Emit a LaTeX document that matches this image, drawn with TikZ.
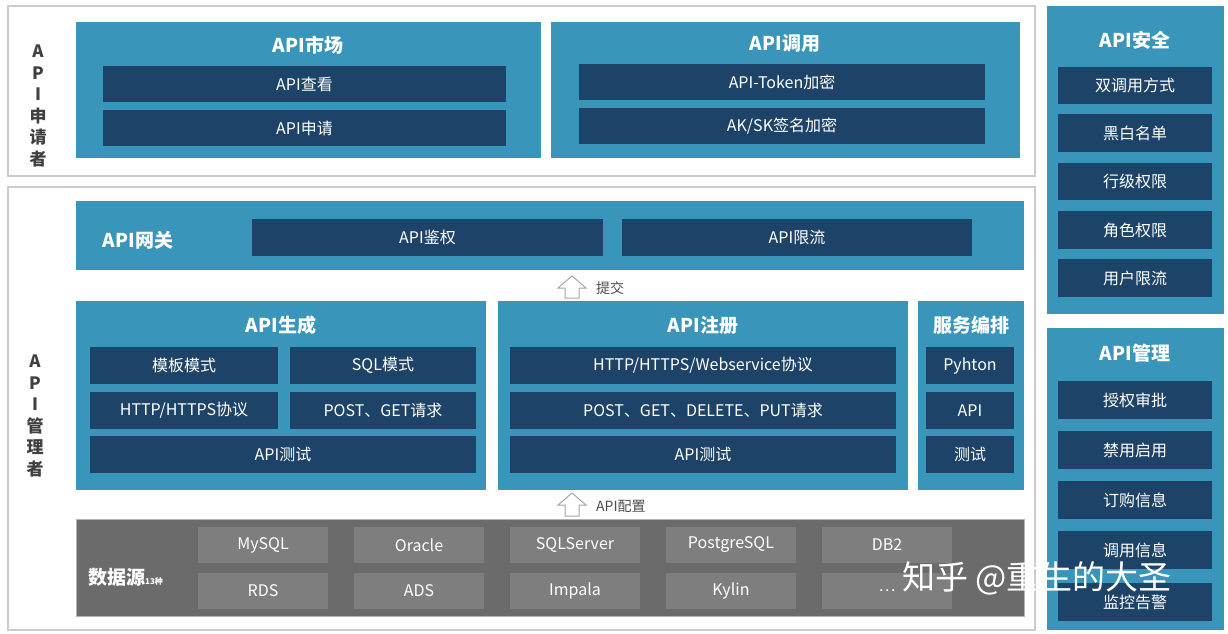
\documentclass[tikz,border=0pt]{standalone}
\usepackage{fontspec}
\setmainfont{Noto Sans CJK SC}
\definecolor{lb}{HTML}{3A95BB}
\definecolor{db}{HTML}{1D4468}
\definecolor{gr}{HTML}{6B6B6B}
\definecolor{gc}{HTML}{7E7E7E}
\newcommand{\bx}[7]{\node[#6, minimum width={#4-#2}, minimum height={#5-#3}] (#1) at ({(#2+#4)/2},{(#3+#5)/2}) {#7};}
\begin{document}
\begin{tikzpicture}[x=1pt,y=-1pt,
  outer/.style={draw=black!20, line width=1.2pt, fill=white, inner sep=0pt},
  panel/.style={fill=lb, inner sep=0pt},
  item/.style={fill=db, text=white, font=\fontsize{16}{18}\selectfont, inner sep=0pt},
  cell/.style={fill=gc, text=white, font=\fontsize{16}{18}\selectfont, inner sep=0pt},
  ttl/.style={text=white, font=\bfseries\fontsize{19}{21}\selectfont, inner sep=0pt},
  side/.style={text=black!75, font=\bfseries\fontsize{17}{21.5}\selectfont, align=center, inner sep=0pt},
  up/.style={draw=black!35, line width=1pt, fill=white},
  lbl/.style={text=black!70, font=\fontsize{14}{16}\selectfont, anchor=west, inner sep=0pt}]
\useasboundingbox (0,0) rectangle (1228,633);
% outer boxes
\bx{top}{8}{6}{1035}{176}{outer}{}
\bx{bot}{8}{187}{1035}{630}{outer}{}
\node[side] (s1) at (38,106) {A\\P\\I\\申\\请\\者};
\node[side] (s2) at (35,416) {A\\P\\I\\管\\理\\者};
% API market
\bx{mkt}{76}{22}{541}{158}{panel}{}
\node[ttl] (mktt) at (308,45) {API市场};
\bx{m1}{103}{66}{506}{102}{item}{API查看}
\bx{m2}{103}{110}{506}{146}{item}{API申请}
\bx{call}{551}{22}{1020}{158}{panel}{}
\node[ttl] (callt) at (785,43) {API调用};
\bx{c1}{579}{64}{985}{100}{item}{API-Token加密}
\bx{c2}{579}{108}{985}{144}{item}{AK/SK签名加密}
% gateway
\bx{gw}{76}{201}{1024}{270}{panel}{}
\node[ttl] (gwt) at (138,240) {API网关};
\bx{g1}{252}{219}{603}{256}{item}{API鉴权}
\bx{g2}{622}{219}{972}{256}{item}{API限流}
% arrow submit
\draw[up] (565,298)--(565,288)--(558,288)--(572,276)--(586,288)--(579,288)--(579,298)--cycle;
\node[lbl] (sub) at (596,288) {提交};
% generate
\bx{gen}{76}{301}{486}{490}{panel}{}
\node[ttl] (gent) at (281,325) {API生成};
\bx{e1}{90}{347}{278}{384}{item}{模板模式}
\bx{e2}{290}{347}{476}{384}{item}{SQL模式}
\bx{e3}{90}{392}{278}{429}{item}{HTTP/HTTPS协议}
\bx{e4}{290}{392}{476}{429}{item}{POST、GET请求}
\bx{e5}{90}{436}{476}{473}{item}{API测试}
\bx{reg}{498}{301}{908}{490}{panel}{}
\node[ttl] (regt) at (703,325) {API注册};
\bx{r1}{510}{347}{896}{384}{item}{HTTP/HTTPS/Webservice协议}
\bx{r2}{510}{392}{896}{429}{item}{POST、GET、DELETE、PUT请求}
\bx{r3}{510}{436}{896}{473}{item}{API测试}
\bx{orc}{918}{301}{1024}{490}{panel}{}
\node[ttl] (orct) at (971,325) {服务编排};
\bx{o1}{926}{347}{1014}{384}{item}{Pyhton}
\bx{o2}{926}{392}{1014}{429}{item}{API}
\bx{o3}{926}{436}{1014}{473}{item}{测试}
% arrow config
\draw[up] (565,516)--(565,505)--(558,505)--(572,493)--(586,505)--(579,505)--(579,516)--cycle;
\node[lbl] (cfg) at (596,506) {API配置};
% data sources
\bx{ds}{76}{519}{1024}{616}{fill=gr,draw=black!30,line width=1pt,inner sep=0pt}{}
\node[ttl, anchor=west] (dst) at (88,577) {数据源{\fontsize{8}{9}\selectfont 13种}};
\bx{d1}{198}{527}{328}{563}{cell}{MySQL}
\bx{d2}{354}{527}{484}{563}{cell}{Oracle}
\bx{d3}{510}{527}{640}{563}{cell}{SQLServer}
\bx{d4}{666}{527}{796}{563}{cell}{PostgreSQL}
\bx{d5}{822}{527}{952}{563}{cell}{DB2}
\bx{d6}{198}{573}{328}{609}{cell}{RDS}
\bx{d7}{354}{573}{484}{609}{cell}{ADS}
\bx{d8}{510}{573}{640}{609}{cell}{Impala}
\bx{d9}{666}{573}{796}{609}{cell}{Kylin}
\bx{d10}{822}{573}{952}{609}{cell}{…}
% right: security
\bx{sec}{1047}{6}{1224}{314}{panel}{}
\node[ttl] (sect) at (1135,40) {API安全};
\bx{a1}{1058}{67}{1212}{104}{item}{双调用方式}
\bx{a2}{1058}{114}{1212}{152}{item}{黑白名单}
\bx{a3}{1058}{163}{1212}{200}{item}{行级权限}
\bx{a4}{1058}{211}{1212}{249}{item}{角色权限}
\bx{a5}{1058}{259}{1212}{297}{item}{用户限流}
\bx{mg}{1047}{328}{1224}{630}{panel}{}
\node[ttl] (mgt) at (1135,353) {API管理};
\bx{b1}{1058}{381}{1212}{419}{item}{授权审批}
\bx{b2}{1058}{431}{1212}{469}{item}{禁用启用}
\bx{b3}{1058}{481}{1212}{519}{item}{订购信息}
\bx{b4}{1058}{531}{1212}{569}{item}{调用信息}
\bx{b5}{1058}{583}{1212}{621}{item}{监控告警}
% watermark
\node[text=white, font=\fontsize{33}{36}\selectfont, inner sep=0pt] (wm) at (1037,578) {知乎 @重生的大圣};
\end{tikzpicture}
\end{document}
